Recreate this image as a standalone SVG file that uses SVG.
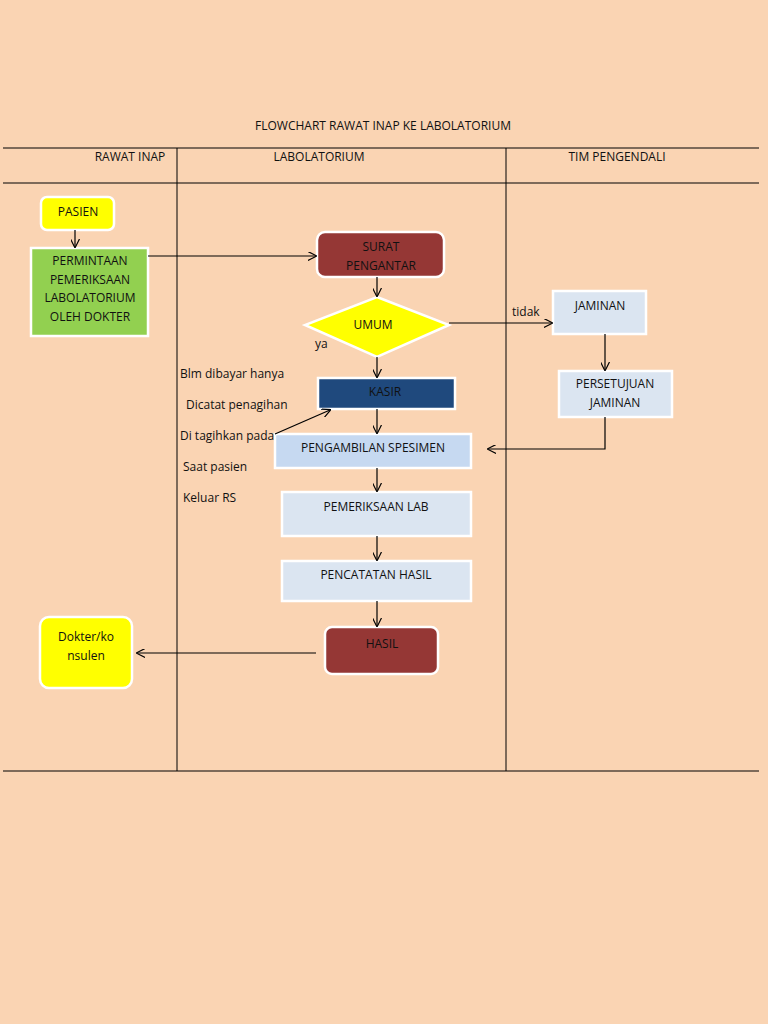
<svg xmlns="http://www.w3.org/2000/svg" width="768" height="1024" viewBox="0 0 768 1024">
<defs>
<marker id="ah" viewBox="0 0 10 10" refX="9" refY="5" markerWidth="9" markerHeight="9" orient="auto" markerUnits="userSpaceOnUse"><path d="M0,0 L10,5 L0,10" fill="none" stroke="#000" stroke-width="1.3"/></marker>
<style>
text{font-family:"Open Sans","Liberation Sans",sans-serif;font-size:12px;fill:#111}
.c{text-anchor:middle}
.ln{stroke:#000;stroke-width:1;fill:none}
.node{stroke:#fff;stroke-width:2.5}
.cn{stroke:#000;stroke-width:1.2;fill:none;marker-end:url(#ah)}
</style>
</defs>
<rect width="768" height="1024" fill="#fad4b3"/>
<text class="c" x="383" y="130">FLOWCHART RAWAT INAP KE LABOLATORIUM</text>
<g id="lanes">
<path class="ln" d="M3,148H759M3,183H759M3,771H759M177,148V771M506,148V771"/>
<text class="c" x="130" y="161">RAWAT INAP</text>
<text class="c" x="319" y="161">LABOLATORIUM</text>
<text class="c" x="617" y="161">TIM PENGENDALI</text>
</g>
<g id="pasien"><rect class="node" x="41" y="197" width="73" height="33" rx="6" fill="#ffff00"/><text class="c" x="78" y="216">PASIEN</text></g>
<g id="permintaan"><rect class="node" x="31" y="248" width="117" height="88" fill="#92d050"/>
<text class="c" x="90" y="265">PERMINTAAN</text><text class="c" x="90" y="284">PEMERIKSAAN</text><text class="c" x="90" y="302">LABOLATORIUM</text><text class="c" x="90" y="321">OLEH DOKTER</text></g>
<g id="surat"><rect class="node" x="317" y="232" width="127" height="45" rx="8" fill="#953735"/><text class="c" x="381" y="251">SURAT</text><text class="c" x="381" y="270">PENGANTAR</text></g>
<g id="umum"><polygon class="node" points="377,297 449,325 377,357 305,325" fill="#ffff00"/><text class="c" x="373" y="329">UMUM</text></g>
<g id="jaminan"><rect class="node" x="553" y="291" width="93" height="43" fill="#dbe5f1"/><text class="c" x="600" y="310">JAMINAN</text></g>
<g id="persetujuan"><rect class="node" x="559" y="371" width="113" height="46" fill="#dbe5f1"/><text class="c" x="615" y="388">PERSETUJUAN</text><text class="c" x="615" y="407">JAMINAN</text></g>
<g id="kasir"><rect class="node" x="318" y="378" width="137" height="31" fill="#1f497d"/><text class="c" x="385" y="396">KASIR</text></g>
<g id="pengambilan"><rect class="node" x="275" y="434" width="196" height="34" fill="#c6d9f1"/><text class="c" x="373" y="452">PENGAMBILAN SPESIMEN</text></g>
<g id="pemeriksaan"><rect class="node" x="282" y="492" width="189" height="44" fill="#dbe5f1"/><text class="c" x="376" y="511">PEMERIKSAAN LAB</text></g>
<g id="pencatatan"><rect class="node" x="282" y="561" width="189" height="40" fill="#dbe5f1"/><text class="c" x="376" y="579">PENCATATAN HASIL</text></g>
<g id="hasil"><rect class="node" x="325" y="627" width="113" height="47" rx="7" fill="#953735"/><text class="c" x="382" y="648">HASIL</text></g>
<g id="dokter"><rect class="node" x="40" y="617" width="92" height="71" rx="9" fill="#ffff00"/><text class="c" x="86" y="641">Dokter/ko</text><text class="c" x="86" y="660">nsulen</text></g>
<g id="note">
<text x="180" y="378">Blm dibayar hanya</text><text x="186" y="409">Dicatat penagihan</text><text x="180" y="440">Di tagihkan pada</text><text x="183" y="471">Saat pasien</text><text x="183" y="502">Keluar RS</text>
</g>
<g id="connectors">
<path class="cn" d="M75,230V247"/>
<path class="cn" d="M148,256H316"/>
<path class="cn" d="M377,277V296"/>
<path class="cn" d="M449,323H552"/>
<path class="cn" d="M605,334V370"/>
<path class="cn" d="M605,417V449H488"/>
<path class="cn" d="M377,357V377"/>
<path class="cn" d="M377,409V433"/>
<path class="cn" d="M275,434L330,410"/>
<path class="cn" d="M377,468V491"/>
<path class="cn" d="M377,536V560"/>
<path class="cn" d="M377,601V626"/>
<path class="cn" d="M316,653H137"/>
<text x="512" y="316">tidak</text>
<text x="315" y="348">ya</text>
</g>
</svg>
